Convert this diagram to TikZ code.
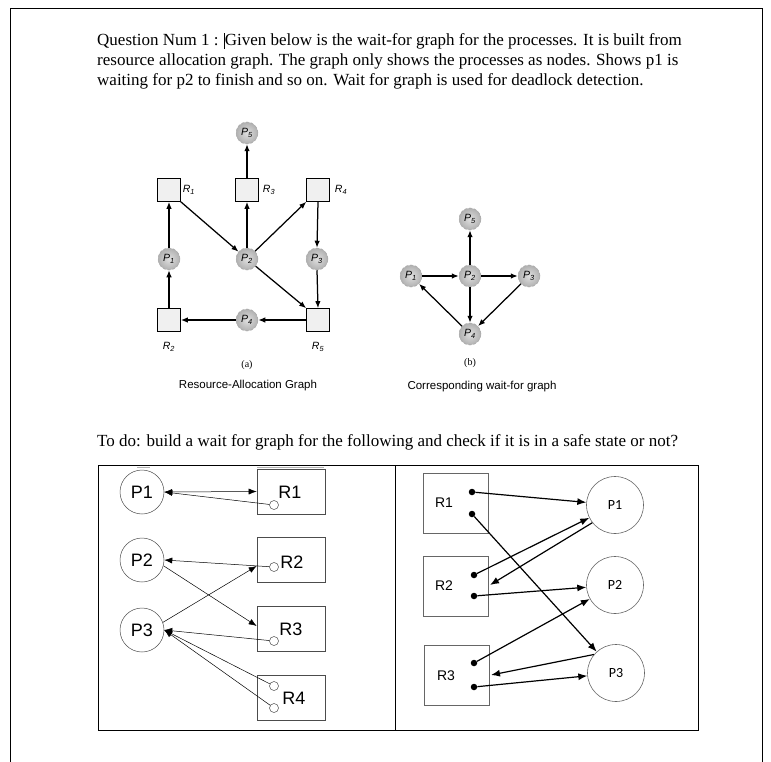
\documentclass[tikz,border=0pt]{standalone}
\usepackage{fontspec}
\setmainfont{Liberation Serif}
\newfontfamily\arialf{Liberation Sans}
\newfontfamily\calf{Carlito}
\usetikzlibrary{arrows.meta,calc}
\begin{document}
\begin{tikzpicture}[x=1pt,y=-1pt,
  every node/.style={inner sep=0pt},
  txt/.style={anchor=base west,font=\fontsize{17}{17}\selectfont},
  procA/.style={circle,minimum size=22pt,draw=gray!70,densely dashed,line width=0.5pt,inner color=gray!25,outer color=gray!62,font=\arialf\itshape\fontsize{10.5}{10.5}\selectfont},
  resA/.style={rectangle,minimum size=23pt,fill=gray!12,draw=black,line width=0.6pt},
  labA/.style={font=\arialf\itshape\fontsize{10.5}{10.5}\selectfont},
  capA/.style={font=\arialf\fontsize{11.5}{11.5}\selectfont},
  subA/.style={font=\fontsize{10}{10}\selectfont},
  arrA/.style={-{Latex[length=7pt,width=5.5pt]},line width=1.25pt},
  procL/.style={circle,draw=black!70,line width=0.5pt,minimum size=44pt,font=\arialf\fontsize{18}{18}\selectfont},
  resL/.style={rectangle,draw=black!70,line width=0.6pt,minimum width=68pt,minimum height=45pt},
  labL/.style={font=\arialf\fontsize{18}{18}\selectfont},
  smallc/.style={circle,draw=black!70,fill=white,line width=0.5pt,minimum size=9pt},
  dblL/.style={{Latex[length=8pt,width=6pt]}-{Latex[length=8pt,width=6pt]},line width=0.5pt},
  arrL/.style={-{Latex[length=8pt,width=6pt]},line width=0.5pt},
  procR/.style={circle,draw=black!60,line width=0.6pt,minimum size=57pt,font=\calf\fontsize{14}{14}\selectfont},
  resR/.style={rectangle,draw=black!60,line width=0.6pt,minimum width=65pt,minimum height=60pt},
  labR/.style={font=\arialf\fontsize{14}{14}\selectfont},
  dotR/.style={circle,fill=black,minimum size=6.5pt},
  arrR/.style={-{Latex[length=9pt,width=7pt]},line width=1.2pt}
]
\useasboundingbox (0,0) rectangle (771,762);
% page frame
\draw[line width=0.8pt] (10,762) -- (10,8) -- (762,8) -- (762,762);

% title text
\node[txt] (t1) at (97,46) {Question Num 1 : \rule[-3pt]{0.6pt}{16pt}Given below is the wait-for graph for the processes. It is built from};
\node[txt] (t2) at (97,66) {resource allocation graph. The graph only shows the processes as nodes. Shows p1 is};
\node[txt] (t3) at (97,86) {waiting for p2 to finish and so on. Wait for graph is used for deadlock detection.};

% graph (a)
\node[resA] (R1) at (169,190) {};
\node[resA] (R3) at (247,190) {};
\node[resA] (R4) at (318,190) {};
\node[resA] (R2) at (169,320) {};
\node[resA] (R5) at (318,320) {};
\node[procA] (P5) at (247,133) {P\textsubscript{5}};
\node[procA] (P1) at (169,259) {P\textsubscript{1}};
\node[procA] (P2) at (247,259) {P\textsubscript{2}};
\node[procA] (P3) at (317,259) {P\textsubscript{3}};
\node[procA] (P4) at (247,320) {P\textsubscript{4}};
\node[labA] (lR1) at (189,190) {R\textsubscript{1}};
\node[labA] (lR3) at (269,190) {R\textsubscript{3}};
\node[labA] (lR4) at (341,190) {R\textsubscript{4}};
\node[labA] (lR2) at (169,347) {R\textsubscript{2}};
\node[labA] (lR5) at (318,347) {R\textsubscript{5}};
\node[subA] (sa) at (247,365) {(a)};
\node[capA] (ca) at (248,386) {Resource-Allocation Graph};
\draw[arrA] (R2.north) -- (P1.south);
\draw[arrA] (P1.north) -- (R1.south);
\draw[arrA] (R1.south east) -- (P2);
\draw[arrA] (P2.north) -- (R3.south);
\draw[arrA] (R3.north) -- (P5.south);
\draw[arrA] (P2) -- (R4.south west);
\draw[arrA] (R4.south) -- (P3.north);
\draw[arrA] (P3.south) -- (R5.north);
\draw[arrA] (P2) -- (R5.north west);
\draw[arrA] (R5.west) -- (P4.east);
\draw[arrA] (P4.west) -- (R2.east);

% graph (b)
\node[procA] (Q5) at (470,219) {P\textsubscript{5}};
\node[procA] (Q1) at (411,276) {P\textsubscript{1}};
\node[procA] (Q2) at (470,276) {P\textsubscript{2}};
\node[procA] (Q3) at (529,276) {P\textsubscript{3}};
\node[procA] (Q4) at (470,334) {P\textsubscript{4}};
\node[subA] (sb) at (470,363) {(b)};
\node[capA] (cb) at (482,387) {Corresponding wait-for graph};
\draw[arrA] (Q1) -- (Q2);
\draw[arrA] (Q2) -- (Q3);
\draw[arrA] (Q2) -- (Q5);
\draw[arrA] (Q2) -- (Q4);
\draw[arrA] (Q3) -- (Q4);
\draw[arrA] (Q4) -- (Q1);

% to do
\node[txt] (t4) at (97,446) {To do: build a wait for graph for the following and check if it is in a safe state or not?};

% table
\draw[gray!60,line width=0.8pt] (137,467) -- (150,467);
\draw[gray!60,line width=0.8pt] (257,467) -- (324,467);
\draw[line width=0.7pt] (98,465) rectangle (698,730);
\draw[line width=0.7pt] (395,465) -- (395,730);

% left sub-diagram
\node[procL] (L1) at (142,492) {P1};
\node[procL] (L2) at (142,560) {P2};
\node[procL] (L3) at (142,630) {P3};
\node[resL] (M1) at (291,491.5) {};
\node[resL] (M2) at (291,560) {};
\node[resL] (M3) at (291,629) {};
\node[resL] (M4) at (291,697.5) {};
\node[labL] (lM1) at (290,492) {R1};
\node[labL] (lM2) at (292,562) {R2};
\node[labL] (lM3) at (291,629) {R3};
\node[labL] (lM4) at (294,698) {R4};
\node[smallc] (c1) at (274,505) {};
\node[smallc] (c2) at (274,567) {};
\node[smallc] (c3) at (274,641) {};
\node[smallc] (c4) at (274,686) {};
\node[smallc] (c5) at (274,708) {};
\draw[dblL] (L1.east) -- (M1.west);
\draw[arrL] (c1) -- (L1.east);
\draw[arrL] (c2) -- (L2.east);
\coordinate (m2in) at ($(M2.west)+(0,6)$);
\coordinate (m3in) at ($(M3.west)+(0,-3)$);
\draw[arrL] (L3.20) -- (m2in);
\draw[arrL] (L2.-15) -- (m3in);
\draw[arrL] (c3) -- (L3.east);
\draw[arrL] (c4) -- (L3.east);
\draw[arrL] (c5) -- (L3.east);

% right sub-diagram
\node[resR] (N1) at (455.5,503) {};
\node[resR] (N2) at (456,586) {};
\node[resR] (N3) at (456.5,675.5) {};
\node[labR] (lN1) at (444,503) {R1};
\node[labR] (lN2) at (444,586) {R2};
\node[labR] (lN3) at (446,676) {R3};
\node[procR] (S1) at (615,505) {P1};
\node[procR] (S2) at (615,585) {P2};
\node[procR] (S3) at (616,673) {P3};
\node[dotR] (d11) at (472,492) {};
\node[dotR] (d12) at (472,514) {};
\node[dotR] (d21) at (474,575) {};
\node[dotR] (d22) at (474,596) {};
\node[dotR] (d31) at (474,663) {};
\node[dotR] (d32) at (474,687) {};
\coordinate (n2in) at (490,585);
\coordinate (n3in) at (491,675);
\draw[arrR] (d11) -- (S1);
\draw[arrR] (d21) -- (S1);
\draw[arrR] (S1.218) -- (n2in);
\draw[arrR] (d22) -- (S2);
\draw[arrR] (d12) -- (S3);
\draw[arrR] (d31) -- (S2);
\draw[arrR] (S3.140) -- (n3in);
\draw[arrR] (d32) -- (S3);
\end{tikzpicture}
\end{document}
